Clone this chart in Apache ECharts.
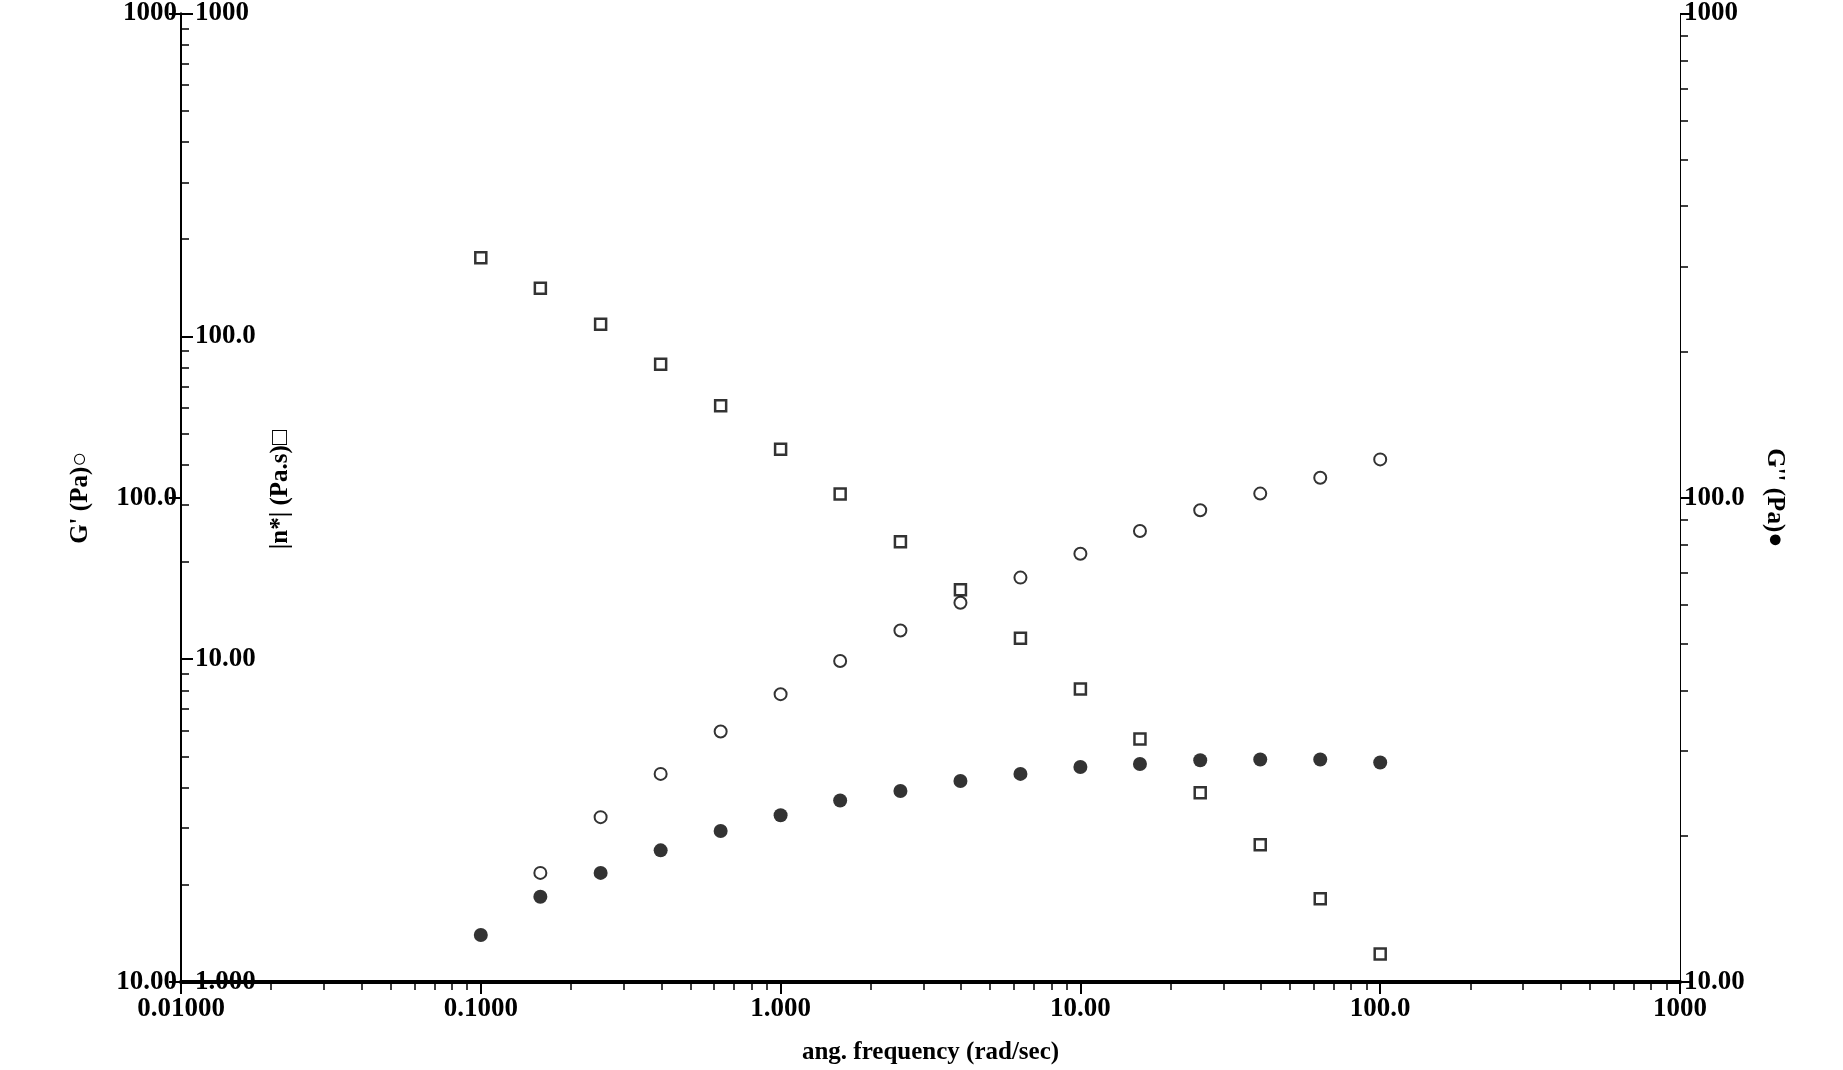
<!DOCTYPE html>
<html>
<head>
<meta charset="utf-8">
<script src="https://cdn.jsdelivr.net/npm/echarts@6/dist/echarts.min.js"></script>
<style>html,body{margin:0;background:#fff}#main{width:1843px;height:1070px}</style>
</head>
<body>
<div id="main"></div>
<script>
var mychart = echarts.init(document.getElementById('main'));

// angular frequency (rad/sec)
var freq = [0.1, 0.158, 0.251, 0.398, 0.631, 1, 1.58, 2.51, 3.98, 6.31, 10, 15.8, 25.1, 39.8, 63.1, 100];
// G' (Pa), no point at 0.1
var gPrime = [null, 16.8, 21.9, 26.9, 32.9, 39.3, 46.0, 53.2, 60.7, 68.4, 76.6, 85.4, 94.2, 102, 110, 120];
// G'' (Pa)
var gDouble = [12.5, 15.0, 16.8, 18.7, 20.5, 22.1, 23.7, 24.8, 26.0, 26.9, 27.8, 28.2, 28.7, 28.8, 28.8, 28.4];
// |n*| (Pa.s)
var eta = [175, 141, 109, 82, 61, 44.7, 32.5, 23.1, 16.4, 11.6, 8.09, 5.66, 3.86, 2.66, 1.81, 1.22];

function pairs(ys) {
    var out = [];
    for (let i = 0; i < freq.length; i++) {
        if (ys[i] != null) out.push([freq[i], ys[i]]);
    }
    return out;
}

const font = 'Liberation Serif';
function fmt(v) { return Number(v).toPrecision(4); }
var lbl = { color: '#000', fontFamily: font, fontWeight: 'bold', fontSize: 27, formatter: fmt };
var line = { show: true, lineStyle: { color: '#000', width: 2 } };
var minor = { show: true, splitNumber: 9, length: 8, lineStyle: { color: '#000', width: 1.5 } };

var option = {
    animation: false,
    grid: { left: 181, right: 163, top: 4, bottom: 65 },
    xAxis: {
        type: 'log', min: 0.01, max: 1000, logBase: 10,
        axisLine: { show: true, lineStyle: { color: '#000', width: 4 } },
        axisTick: { show: true, length: 12, lineStyle: { color: '#000', width: 2 } },
        minorTick: minor,
        splitLine: { show: false },
        axisLabel: Object.assign({}, lbl, { margin: 14 }),
        name: 'ang. frequency (rad/sec)', nameLocation: 'middle', nameGap: 58,
        nameTextStyle: { color: '#000', fontFamily: font, fontWeight: 'bold', fontSize: 25 }
    },
    yAxis: [
        {
            type: 'log', min: 10, max: 1000, position: 'left',
            axisLine: line,
            axisTick: { show: true, length: 12, lineStyle: { color: '#000', width: 2 } },
            minorTick: Object.assign({}, minor, { show: false }),
            splitLine: { show: false },
            axisLabel: Object.assign({}, lbl, { margin: 4 }),
            name: "G' (Pa)○", nameLocation: 'middle', nameGap: 88,
            nameTextStyle: { color: '#000', fontFamily: font, fontWeight: 'bold', fontSize: 25 }
        },
        {
            type: 'log', min: 1, max: 1000, position: 'left',
            axisLine: line,
            axisTick: { show: true, inside: true, length: 12, lineStyle: { color: '#000', width: 2 } },
            minorTick: Object.assign({}, minor),
            splitLine: { show: false },
            axisLabel: Object.assign({}, lbl, { inside: true, margin: 14 })
        },
        {
            type: 'log', min: 10, max: 1000, position: 'right',
            axisLine: { show: true, lineStyle: { color: '#000', width: 1 } },
            axisTick: { show: true, length: 12, lineStyle: { color: '#000', width: 2 } },
            minorTick: minor,
            splitLine: { show: false },
            axisLabel: Object.assign({}, lbl, { margin: 4 }),
            name: "G'' (Pa)●", nameLocation: 'middle', nameGap: 82, nameRotate: -90,
            nameTextStyle: { color: '#000', fontFamily: font, fontWeight: 'bold', fontSize: 25 }
        }
    ],
    graphic: [{
        type: 'text', left: 268, top: 430, rotation: Math.PI / 2,
        style: { text: '|n*| (Pa.s)□', fill: '#000', font: 'bold 25px "Liberation Serif"' }
    }],
    series: [
        {
            name: 'eta', type: 'scatter', yAxisIndex: 1, data: pairs(eta),
            symbol: 'rect', symbolSize: 11,
            itemStyle: { color: '#fff', borderColor: '#000', borderWidth: 2.5 }
        },
        {
            name: 'G1', type: 'scatter', yAxisIndex: 0, data: pairs(gPrime),
            symbol: 'circle', symbolSize: 12,
            itemStyle: { color: '#fff', borderColor: '#000', borderWidth: 2 }
        },
        {
            name: 'G2', type: 'scatter', yAxisIndex: 2, data: pairs(gDouble),
            symbol: 'circle', symbolSize: 14,
            itemStyle: { color: '#000' }
        }
    ]
};

mychart.setOption(option);
</script>
</body>
</html>
